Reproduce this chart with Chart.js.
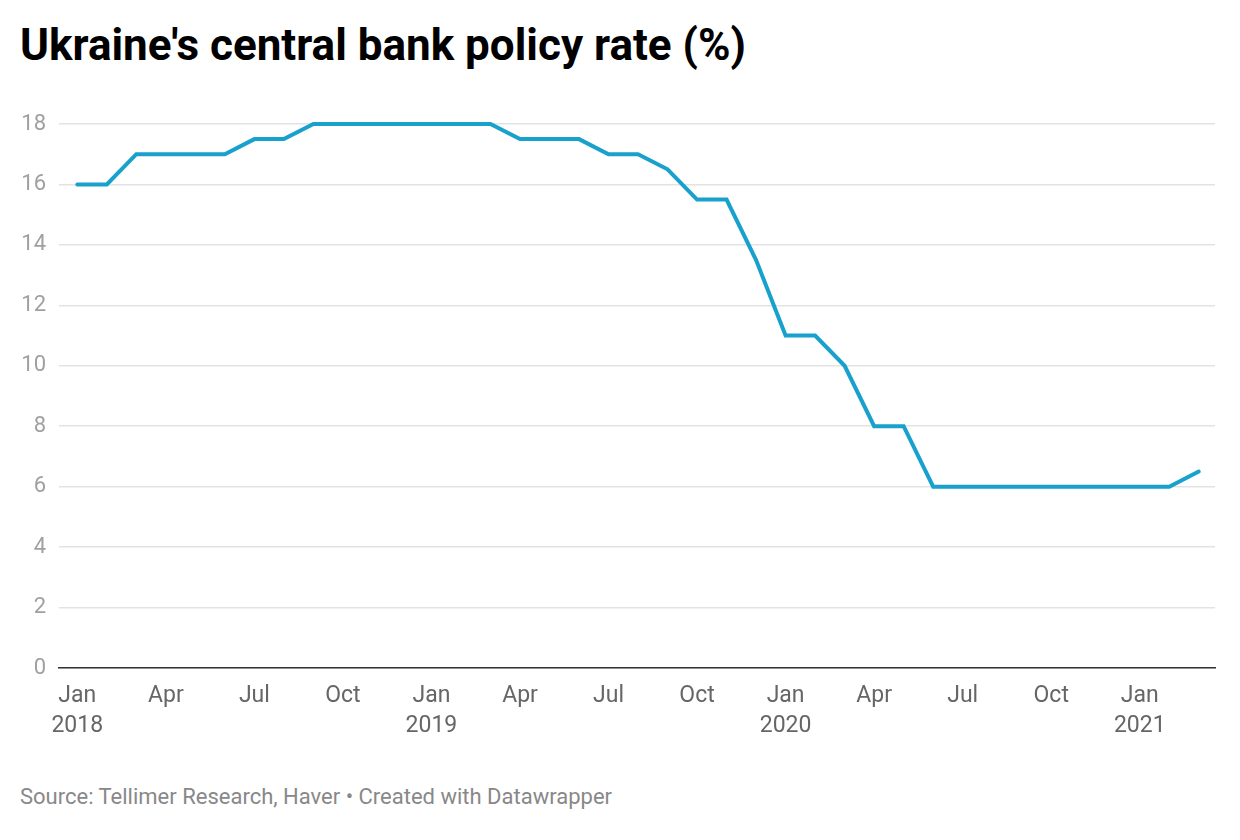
<!DOCTYPE html>
<html>
<head>
<meta charset="utf-8">
<script src="https://cdn.jsdelivr.net/npm/chart.js@4.4.1/dist/chart.umd.min.js"></script>
<style>
  html, body { margin: 0; padding: 0; background: #fff; }
  body { width: 1240px; height: 840px; position: relative; overflow: hidden; font-family: Roboto, sans-serif; }
  #title { position: absolute; left: 20px; top: 19px; font-size: 44px; font-weight: 700; color: #000; margin: 0; }
  #box { position: absolute; left: 0; top: 90px; width: 1240px; height: 661px; }
  #source { position: absolute; left: 20px; top: 784px; font-size: 22px; color: #888; }
</style>
</head>
<body>
<h1 id="title">Ukraine's central bank policy rate (%)</h1>
<div id="box"><canvas id="chart"></canvas></div>
<div id="source">Source: Tellimer Research, Haver • Created with Datawrapper</div>
<script>
// Monthly observations, Jan 2018 to Mar 2021
const months = [
  "2018-01", "2018-02", "2018-03", "2018-04", "2018-05", "2018-06",
  "2018-07", "2018-08", "2018-09", "2018-10", "2018-11", "2018-12",
  "2019-01", "2019-02", "2019-03", "2019-04", "2019-05", "2019-06",
  "2019-07", "2019-08", "2019-09", "2019-10", "2019-11", "2019-12",
  "2020-01", "2020-02", "2020-03", "2020-04", "2020-05", "2020-06",
  "2020-07", "2020-08", "2020-09", "2020-10", "2020-11", "2020-12",
  "2021-01", "2021-02", "2021-03"
];
const policyRate = [
  16, 16, 17, 17, 17, 17,
  17.5, 17.5, 18, 18, 18, 18,
  18, 18, 18, 17.5, 17.5, 17.5,
  17, 17, 16.5, 15.5, 15.5, 13.5,
  11, 11, 10, 8, 8, 6,
  6, 6, 6, 6, 6, 6,
  6, 6, 6.5
];
// x-axis ticks: every third month, starting Jan 2018
const tickMonths = [0, 3, 6, 9, 12, 15, 18, 21, 24, 27, 30, 33, 36];
const tickLabels = [
  ["Jan", "2018"], "Apr", "Jul", "Oct",
  ["Jan", "2019"], "Apr", "Jul", "Oct",
  ["Jan", "2020"], "Apr", "Jul", "Oct",
  ["Jan", "2021"]
];
const yTicks = [0, 2, 4, 6, 8, 10, 12, 14, 16, 18];

const points = policyRate.map((v, i) => ({ x: i, y: v }));

new Chart(document.getElementById("chart"), {
  type: "line",
  data: {
    datasets: [{
      label: "Policy rate",
      data: points,
      borderColor: "#18a1cd",
      borderWidth: 4,
      pointRadius: 0,
      tension: 0,
      fill: false,
      clip: false,
      borderCapStyle: "round",
      borderJoinStyle: "miter"
    }]
  },
  options: {
    responsive: true,
    maintainAspectRatio: false,
    animation: false,
    layout: { padding: { top: 34, right: 25, left: 0, bottom: 0 } },
    plugins: { legend: { display: false }, tooltip: { enabled: false } },
    scales: {
      x: {
        type: "linear",
        min: -0.62,
        max: 38.55,
        afterBuildTicks: (scale) => {
          scale.ticks = tickMonths.map(v => ({ value: v }));
        },
        afterFit: (scale) => { scale.height = 83; },
        grid: { display: false, drawTicks: false },
        border: { display: true, color: "#333", width: 1.5 },
        ticks: {
          autoSkip: false,
          maxRotation: 0,
          padding: 14,
          color: "#666",
          font: { family: "Roboto", size: 23, lineHeight: 1.28 },
          callback: (value) => {
            const i = tickMonths.indexOf(value);
            return i >= 0 ? tickLabels[i] : "";
          }
        }
      },
      y: {
        min: 0,
        max: 18,
        afterBuildTicks: (scale) => {
          scale.ticks = yTicks.map(v => ({ value: v }));
        },
        afterFit: (scale) => { scale.width = 59; },
        grid: { color: "#e3e3e3", lineWidth: 1.5, drawTicks: false },
        border: { display: false },
        ticks: {
          padding: 13,
          color: "#a0a0a0",
          font: { family: "Roboto", size: 22 }
        }
      }
    }
  }
});
</script>
</body>
</html>
